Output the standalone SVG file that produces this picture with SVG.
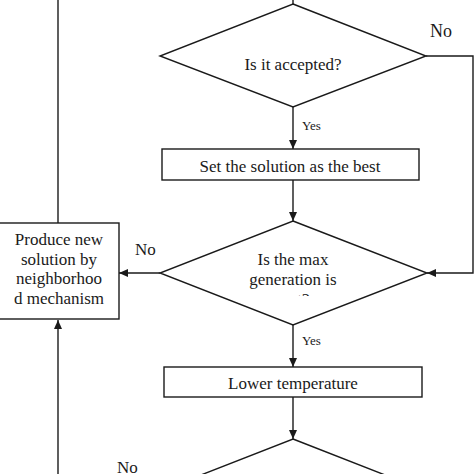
<svg xmlns="http://www.w3.org/2000/svg" width="474" height="474" viewBox="0 0 474 474">
<style>
.s{fill:#fff;stroke:#1a1a1a;stroke-width:1.4}
.c{fill:none;stroke:#1a1a1a;stroke-width:1.4}
text{font-family:"Liberation Serif","Times New Roman",serif;fill:#1a1a1a;font-size:17px}
.m{text-anchor:middle}
.y{font-size:13px}
</style>
<defs>
<marker id="a" markerWidth="10" markerHeight="10" refX="9" refY="5" orient="auto" markerUnits="userSpaceOnUse">
<path d="M0,1 L9,5 L0,9 Z" fill="#1a1a1a"/>
</marker>
<clipPath id="cl"><rect x="0" y="0" width="474" height="296"/></clipPath>
</defs>
<rect width="474" height="474" fill="#fff"/>
<g id="connectors">
<line class="c" x1="293" y1="0" x2="293" y2="4"/>
<line class="c" x1="58" y1="0" x2="58" y2="223"/>
<line class="c" x1="293" y1="107" x2="293" y2="149" marker-end="url(#a)"/>
<polyline class="c" points="426,56 473,56 473,273 427,273" marker-end="url(#a)"/>
<line class="c" x1="293" y1="180" x2="293" y2="221" marker-end="url(#a)"/>
<line class="c" x1="160" y1="273" x2="119" y2="273" marker-end="url(#a)"/>
<line class="c" x1="293" y1="325" x2="293" y2="367" marker-end="url(#a)"/>
<line class="c" x1="293" y1="397" x2="293" y2="439" marker-end="url(#a)"/>
<line class="c" x1="58" y1="474" x2="58" y2="320" marker-end="url(#a)"/>
<text x="430" y="37" style="font-size:18px">No</text>
<text class="y" x="302" y="130">Yes</text>
<text x="135" y="255">No</text>
<text class="y" x="302" y="345">Yes</text>
<text x="117" y="473">No</text>
</g>
<g id="accepted">
<polygon class="s" points="293,4 426,56 293,107 160,56"/>
<text class="m" x="293" y="70">Is it accepted?</text>
</g>
<g id="setbest">
<rect class="s" x="162" y="149" width="257" height="31"/>
<text class="m" x="290" y="172">Set the solution as the best</text>
</g>
<g id="maxgen">
<polygon class="s" points="293,221 427,273 293,325 160,273"/>
<text class="m" x="293" y="265">Is the max</text>
<text class="m" x="293" y="285">generation is</text>
<text class="m" x="293" y="305" clip-path="url(#cl)">met?</text>
</g>
<g id="produce">
<rect class="s" x="-2" y="223" width="121" height="96"/>
<text class="m" x="59" y="245">Produce new</text>
<text class="m" x="59" y="265">solution by</text>
<text class="m" x="59" y="284">neighborhoo</text>
<text class="m" x="59" y="304">d mechanism</text>
</g>
<g id="lower">
<rect class="s" x="164" y="367" width="258" height="30"/>
<text class="m" x="293" y="389">Lower temperature</text>
</g>
<g id="final">
<polygon class="s" points="293,439 426,491 293,543 160,491"/>
</g>
</svg>
